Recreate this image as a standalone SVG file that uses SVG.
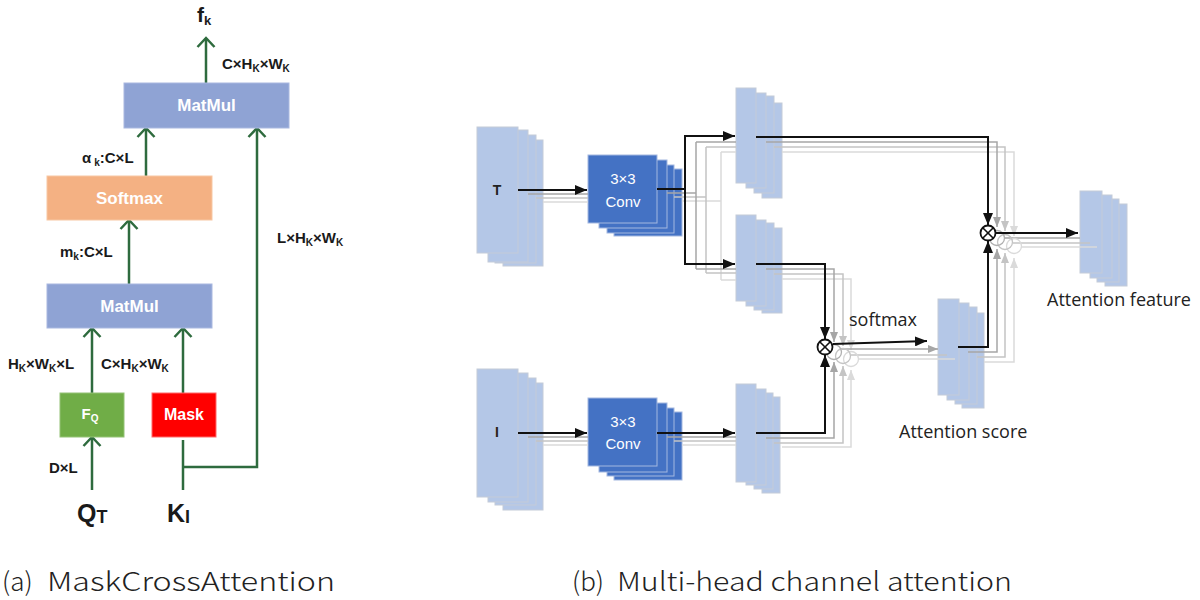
<svg xmlns="http://www.w3.org/2000/svg" width="1200" height="600" viewBox="0 0 1200 600">
<defs>
<style>
.gl{fill:none;stroke:#2e6b3e;stroke-width:2.5}
.bt{font-family:"Liberation Sans",Arial,sans-serif;font-weight:bold;fill:#fff;text-anchor:middle}
.lb{font-family:"Liberation Sans",Arial,sans-serif;font-weight:bold;font-size:15px;fill:#1a1a1a}
.sb{font-size:10px}
.fm{fill:#b4c7e7;stroke:#c4cbd8;stroke-width:1}
.cv{fill:#4472c4;stroke:#a3b8e0;stroke-width:1}
.bk{fill:none;stroke:#111;stroke-width:2}
.g1{fill:none;stroke:#a6a6a6;stroke-width:1.5}
.g2{fill:none;stroke:#c4c4c4;stroke-width:1.5}
.g3{fill:none;stroke:#dadada;stroke-width:1.5}
.ct{font-family:"Liberation Sans",Arial,sans-serif;font-size:15px;fill:#fff;text-anchor:middle}
.tx{font-family:"Open Sans","Liberation Sans",sans-serif;font-size:18px;fill:#222}
.cap{font-family:"Noto Sans CJK SC","Noto Sans",sans-serif;font-weight:300;font-size:26px;fill:#222}
.ox{fill:#fff;stroke:#111;stroke-width:1.8}
</style>
<marker id="ga" viewBox="-12 -10 14 20" refX="0" refY="0" markerWidth="14" markerHeight="20" markerUnits="userSpaceOnUse" orient="auto"><path d="M-9,-8.5 L0,0 L-9,8.5" fill="none" stroke="#2e6b3e" stroke-width="2.5"/></marker>
<marker id="ab" viewBox="0 0 12 10" refX="12" refY="5" markerWidth="12" markerHeight="10" markerUnits="userSpaceOnUse" orient="auto"><path d="M0,0 L12,5 L0,10 z" fill="#111"/></marker>
<marker id="a1" viewBox="0 0 10 8" refX="10" refY="4" markerWidth="10" markerHeight="8" markerUnits="userSpaceOnUse" orient="auto"><path d="M0,0 L10,4 L0,8 z" fill="#a6a6a6"/></marker>
<marker id="a2" viewBox="0 0 10 8" refX="10" refY="4" markerWidth="10" markerHeight="8" markerUnits="userSpaceOnUse" orient="auto"><path d="M0,0 L10,4 L0,8 z" fill="#c4c4c4"/></marker>
<marker id="a3" viewBox="0 0 10 8" refX="10" refY="4" markerWidth="10" markerHeight="8" markerUnits="userSpaceOnUse" orient="auto"><path d="M0,0 L10,4 L0,8 z" fill="#dadada"/></marker>
</defs>
<rect width="1200" height="600" fill="#fff"/>

<!-- ===== (a) MaskCrossAttention ===== -->
<g id="a-connectors">
<path class="gl" d="M206,83 V38" marker-end="url(#ga)"/>
<path class="gl" d="M146,176 V128" marker-end="url(#ga)"/>
<path class="gl" d="M129,284 V220" marker-end="url(#ga)"/>
<path class="gl" d="M92,393 V328" marker-end="url(#ga)"/>
<path class="gl" d="M183,393 V328" marker-end="url(#ga)"/>
<path class="gl" d="M92,490 V437" marker-end="url(#ga)"/>
<path class="gl" d="M183,490 V440"/>
<path class="gl" d="M183,467 H257 V128" marker-end="url(#ga)"/>
</g>
<g id="a-labels">
<text class="lb" x="222" y="69">C×H<tspan class="sb" dy="3">K</tspan><tspan dy="-3">×W</tspan><tspan class="sb" dy="3">K</tspan></text>
<text class="lb" x="82" y="163">α<tspan class="sb" dx="3" dy="3">k</tspan><tspan dy="-3">:C×L</tspan></text>
<text class="lb" x="60" y="257">m<tspan class="sb" dy="3">k</tspan><tspan dy="-3">:C×L</tspan></text>
<text class="lb" x="277" y="243">L×H<tspan class="sb" dy="3">K</tspan><tspan dy="-3">×W</tspan><tspan class="sb" dy="3">K</tspan></text>
<text class="lb" x="8" y="369">H<tspan class="sb" dy="3">K</tspan><tspan dy="-3">×W</tspan><tspan class="sb" dy="3">K</tspan><tspan dy="-3">×L</tspan></text>
<text class="lb" x="101" y="369">C×H<tspan class="sb" dy="3">K</tspan><tspan dy="-3">×W</tspan><tspan class="sb" dy="3">K</tspan></text>
<text class="lb" x="49" y="473">D×L</text>
</g>
<g id="fk"><text x="197" y="22" font-family="Liberation Sans,Arial,sans-serif" font-weight="bold" font-size="21" fill="#1a1a1a">f<tspan font-size="13" dy="3">k</tspan></text></g>
<g id="matmul-top"><rect x="124" y="83" width="165" height="45" fill="#8fa3d4" stroke="#a9b8e0"/><text class="bt" x="206.5" y="111" font-size="17">MatMul</text></g>
<g id="softmax-box"><rect x="47" y="176" width="165" height="44" fill="#f4b183" stroke="#f7c7a3"/><text class="bt" x="129.5" y="204" font-size="17">Softmax</text></g>
<g id="matmul-bottom"><rect x="47" y="284" width="165" height="44" fill="#8fa3d4" stroke="#a9b8e0"/><text class="bt" x="129.5" y="312" font-size="17">MatMul</text></g>
<g id="fq"><rect x="60" y="393" width="64" height="44" fill="#70ad47" stroke="#94c277"/><text class="bt" x="90" y="419" font-size="15">F<tspan font-size="10" dy="3">Q</tspan></text></g>
<g id="mask"><rect x="152" y="393" width="64" height="44" fill="#ff0000" stroke="#ff6a6a"/><text class="bt" x="184" y="420" font-size="16">Mask</text></g>
<g id="qt"><text x="77" y="522" font-family="Liberation Sans,Arial,sans-serif" font-weight="bold" font-size="25" fill="#1a1a1a">Q<tspan font-size="18" dy="1">T</tspan></text></g>
<g id="ki"><text x="167" y="522" font-family="Liberation Sans,Arial,sans-serif" font-weight="bold" font-size="25" fill="#1a1a1a">K<tspan font-size="18" dy="1">I</tspan></text></g>

<!-- ===== (b) Multi-head channel attention ===== -->
<g id="stack-T">
<rect class="fm" x="503" y="140" width="40" height="126"/>
<rect class="fm" x="495" y="135" width="41" height="128"/>
<rect class="fm" x="488" y="130" width="40" height="132"/>
<rect class="fm" x="477" y="127" width="41" height="126"/>
<text x="497" y="195" font-family="Liberation Sans,Arial,sans-serif" font-weight="bold" font-size="14" fill="#222" text-anchor="middle">T</text>
</g>
<g id="stack-I">
<rect class="fm" x="503" y="383" width="40" height="127"/>
<rect class="fm" x="495" y="378" width="41" height="127"/>
<rect class="fm" x="488" y="373" width="40" height="129"/>
<rect class="fm" x="477" y="369" width="41" height="128"/>
<text x="497" y="437" font-family="Liberation Sans,Arial,sans-serif" font-weight="bold" font-size="14" fill="#2a2218" text-anchor="middle">I</text>
</g>
<g id="conv-T">
<rect class="cv" x="614" y="169" width="68" height="67"/>
<rect class="cv" x="607" y="165" width="67" height="68"/>
<rect class="cv" x="599" y="160" width="68" height="68"/>
<rect class="cv" x="588" y="155" width="69" height="68"/>
<text class="ct" x="623" y="184">3×3</text>
<text class="ct" x="623" y="207">Conv</text>
</g>
<g id="conv-I">
<rect class="cv" x="614" y="412" width="68" height="68"/>
<rect class="cv" x="607" y="408" width="67" height="68"/>
<rect class="cv" x="599" y="403" width="68" height="69"/>
<rect class="cv" x="588" y="398" width="69" height="68"/>
<text class="ct" x="623" y="427">3×3</text>
<text class="ct" x="623" y="449">Conv</text>
</g>
<g id="stack-top">
<rect class="fm" x="762" y="103" width="20" height="95"/>
<rect class="fm" x="754" y="96" width="20" height="97"/>
<rect class="fm" x="746" y="93" width="20" height="95"/>
<rect class="fm" x="736" y="88" width="20" height="95"/>
</g>
<g id="stack-mid">
<rect class="fm" x="762" y="228" width="20" height="85"/>
<rect class="fm" x="754" y="223" width="20" height="87"/>
<rect class="fm" x="746" y="220" width="20" height="86"/>
<rect class="fm" x="736" y="215" width="20" height="86"/>
</g>
<g id="stack-bottom">
<rect class="fm" x="762" y="397" width="18" height="96"/>
<rect class="fm" x="754" y="393" width="19" height="96"/>
<rect class="fm" x="746" y="389" width="20" height="96"/>
<rect class="fm" x="736" y="384" width="20" height="98"/>
</g>
<g id="stack-score">
<rect class="fm" x="962" y="313" width="22" height="95"/>
<rect class="fm" x="955" y="307" width="22" height="97"/>
<rect class="fm" x="947" y="303" width="22" height="97"/>
<rect class="fm" x="938" y="299" width="21" height="96"/>
</g>
<g id="stack-feature">
<rect class="fm" x="1105" y="204" width="22" height="82"/>
<rect class="fm" x="1097" y="199" width="22" height="83"/>
<rect class="fm" x="1090" y="195" width="22" height="83"/>
<rect class="fm" x="1080" y="191" width="22" height="82"/>
</g>

<g id="b-connectors">
<!-- ghost (multi-head) lines -->
<path class="g3" d="M543,202 H588 M543,445 H588"/>
<path class="g2" d="M536,198 H588 M536,441 H588"/>
<path class="g1" d="M528,194 H588 M528,437 H588"/>
<path class="g3" d="M682,201 H721 M721,152 V280 M721,152 H736 M721,280 H736 M682,445 H736"/>
<path class="g2" d="M674,197 H706 M706,147 V273 M706,147 H736 M706,273 H736 M674,441 H736"/>
<path class="g1" d="M667,193 H696 M696,142 V269 M696,142 H736 M696,269 H736 M667,437 H736"/>
<path class="g3" d="M782,152 H1014 V236" marker-end="url(#a3)"/>
<path class="g2" d="M774,147 H1005 V231" marker-end="url(#a2)"/>
<path class="g1" d="M766,142 H997 V227" marker-end="url(#a1)"/>
<path class="g3" d="M984,362 H1014 V258" marker-end="url(#a3)"/>
<path class="g2" d="M977,357 H1005 V253" marker-end="url(#a2)"/>
<path class="g1" d="M968,352 H997 V249" marker-end="url(#a1)"/>
<path class="g3" d="M1021,247 H1097"/>
<path class="g2" d="M1013,243 H1090"/>
<path class="g1" d="M1005,238 H1080"/>
<path class="g3" d="M782,279 H851 V350" marker-end="url(#a3)"/>
<path class="g2" d="M774,274 H843 V346" marker-end="url(#a2)"/>
<path class="g1" d="M766,269 H834 V342" marker-end="url(#a1)"/>
<path class="g3" d="M782,447 H851 V370" marker-end="url(#a3)"/>
<path class="g2" d="M774,443 H843 V366" marker-end="url(#a2)"/>
<path class="g1" d="M766,438 H834 V362" marker-end="url(#a1)"/>
<path class="g3" d="M858,359 H955"/>
<path class="g2" d="M851,355 H947"/>
<path class="g1" d="M842,349 H938" marker-end="url(#a1)"/>
<!-- ghost multiply circles -->
<g fill="none">
<circle cx="851" cy="359" r="7.5" stroke="#dadada" stroke-width="1.3"/>
<circle cx="843" cy="356" r="7.5" stroke="#c4c4c4" stroke-width="1.3"/>
<circle cx="834" cy="352" r="7.5" stroke="#b0b0b0" stroke-width="1.3"/>
<circle cx="1014" cy="246" r="7.5" stroke="#dadada" stroke-width="1.3"/>
<circle cx="1005" cy="242" r="7.5" stroke="#c4c4c4" stroke-width="1.3"/>
<circle cx="997" cy="238" r="7.5" stroke="#b0b0b0" stroke-width="1.3"/>
</g>
<!-- main (black) connectors -->
<path class="bk" d="M518,190 H587" marker-end="url(#ab)"/>
<path class="bk" d="M657,189 H685 V136 H735" marker-end="url(#ab)"/>
<path class="bk" d="M685,189 V264 H735" marker-end="url(#ab)"/>
<path class="bk" d="M756,137 H988 V225" marker-end="url(#ab)"/>
<path class="bk" d="M958,347 H988 V241" marker-end="url(#ab)"/>
<path class="bk" d="M996,233 H1078" marker-end="url(#ab)"/>
<path class="bk" d="M756,264 H825 V339" marker-end="url(#ab)"/>
<path class="bk" d="M756,433 H825 V355" marker-end="url(#ab)"/>
<path class="bk" d="M833,344 L927,341" marker-end="url(#ab)"/>
<path class="bk" d="M518,433 H587" marker-end="url(#ab)"/>
<path class="bk" d="M657,433 H735" marker-end="url(#ab)"/>
</g>
<g id="mul-softmax">
<circle class="ox" cx="825" cy="347" r="7.5"/>
<path d="M819.7,341.7 L830.3,352.3 M830.3,341.7 L819.7,352.3" stroke="#111" stroke-width="1.6"/>
</g>
<g id="mul-feature">
<circle class="ox" cx="988" cy="233" r="7.5"/>
<path d="M982.7,227.7 L993.3,238.3 M993.3,227.7 L982.7,238.3" stroke="#111" stroke-width="1.6"/>
</g>
<g id="b-labels">
<text class="tx" x="849" y="326">softmax</text>
<text class="tx" x="899" y="438">Attention score</text>
<text class="tx" x="1047" y="306">Attention feature</text>
</g>

<g id="captions">
<text class="cap" x="2" y="591">(a)</text>
<text class="cap" x="47" y="591" textLength="288" lengthAdjust="spacingAndGlyphs">MaskCrossAttention</text>
<text class="cap" x="572" y="591">(b)</text>
<text class="cap" x="617" y="591" textLength="395" lengthAdjust="spacingAndGlyphs">Multi-head channel attention</text>
</g>
</svg>
